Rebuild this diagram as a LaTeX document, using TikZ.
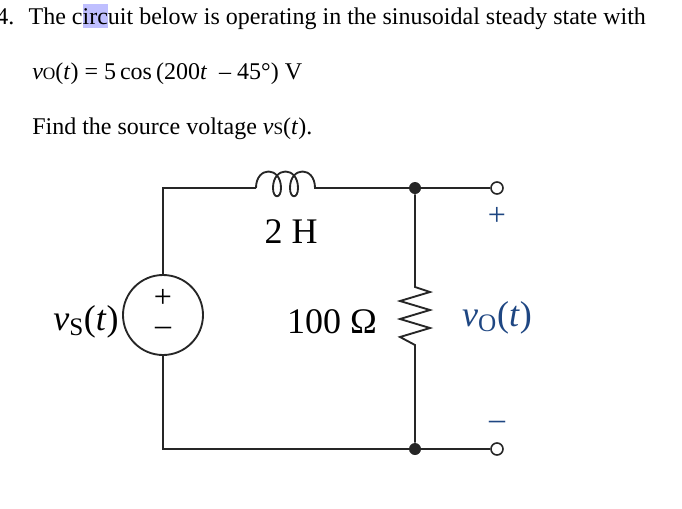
\documentclass[tikz,border=0pt]{standalone}
\usepackage{fontspec}
\setmainfont{Liberation Serif}
\usetikzlibrary{positioning}
\definecolor{lblue}{RGB}{30,70,130}
\begin{document}
\begin{tikzpicture}[x=0.75pt,y=-0.75pt,
  wire/.style={line width=1.4pt,black!85},
  txt/.style={anchor=base west,inner sep=0,font=\fontsize{18}{22}\selectfont},
  big/.style={font=\fontsize{27}{30}\selectfont,inner sep=0},
  dot/.style={circle,fill=black!85,inner sep=0,minimum size=9pt},
  term/.style={circle,draw=black!85,line width=1.2pt,fill=white,inner sep=0,minimum size=9pt}]
\useasboundingbox (0,0) rectangle (682,508);
\node[txt] (l1) at (-4,24) {4.\hspace{0.6em}The c\colorbox{blue!25}{\hspace{-3pt}irc\hspace{-3pt}}uit below is operating in the sinusoidal steady state with};
\node[txt] (l2) at (32,79) {\textit{v}{\fontsize{13}{13}\selectfont O}(\textit{t}) = 5\,cos\,(200\textit{t}\ \ – 45°) V};
\node[txt] (l3) at (32,134) {Find the source voltage \textit{v}{\fontsize{13}{13}\selectfont S}(\textit{t}).};
% nodes
\coordinate (tl) at (163,188);
\coordinate (bl) at (163,449);
\coordinate (li) at (256,188);
\coordinate (ri) at (325,188);
\node[dot] (nt) at (415,188) {};
\node[dot] (nb) at (415,449) {};
\node[term] (tt) at (497,188) {};
\node[term] (tb) at (497,449) {};
\node[circle,draw=black!85,line width=1.4pt,minimum size=60pt,inner sep=0] (src) at (163,315) {};
\coordinate (rt) at (415,287);
\coordinate (rb) at (415,345);
\draw[wire] (src.north) -- (tl) -- (li);
\draw[wire] (li) .. controls +(0,-22) and +(0,-22) .. (281,188)
  .. controls +(0,11) and +(0,11) .. (273,188) .. controls +(0,-22) and +(0,-22) .. (298,188)
  .. controls +(0,11) and +(0,11) .. (290,188) .. controls +(0,-22) and +(0,-22) .. (315,188)
  -- (ri);
\draw[wire] (ri) -- (nt) -- (tt);
\draw[wire] (nt) -- (rt) -- ++(15,5) -- ++(-30,9) -- ++(30,9) -- ++(-30,9) -- ++(30,9) -- ++(-30,9) -- (rb) -- (nb);
\draw[wire] (src.south) -- (bl) -- (nb) -- (tb);
\node[font=\fontsize{24}{24}\selectfont] at (163,298) {+};
\node[font=\fontsize{24}{24}\selectfont] at (163,331) {–};
\node[big] (L) at (291,232) {2 H};
\node[big] (R) at (332,322) {100 Ω};
\node[big] (vs) at (86,322) {\textit{v}\textsubscript{S}(\textit{t})};
\node[big,text=lblue] (vo) at (497,318) {\textit{v}\textsubscript{O}(\textit{t})};
\node[text=lblue,font=\fontsize{24}{24}\selectfont] at (497,216) {+};
\node[text=lblue,font=\fontsize{24}{24}\selectfont] at (497,425) {–};
\end{tikzpicture}
\end{document}
